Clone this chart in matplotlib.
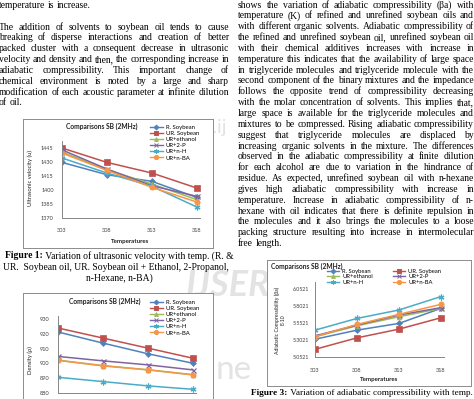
import matplotlib
matplotlib.use("Agg")
import matplotlib.pyplot as plt
from matplotlib.lines import Line2D

W, H = 474, 399
SERIF = "Liberation Serif"
SANS = "Lato"

# ---- data read from the page ----
temps = [303, 308, 313, 318]
names = ["R. Soybean", "UR. Soybean", "UR+ethanol", "UR+2-P", "UR+n-H", "UR+n-BA"]
colors = ["#4F81BD", "#C0504D", "#9BBB59", "#8064A2", "#4BACC6", "#F79646"]
markers = ["D", "s", "^", "x", (6, 2, 0), "o"]
msizes = [3.0, 4.0, 3.4, 3.6, 4.2, 3.8]

# Fig 1: ultrasonic velocity
vel_r_soy = [1429.6, 1416.4, 1409.3, 1392.0]
vel_ur_soy = [1445.0, 1429.6, 1418.2, 1402.1]
vel_ethanol = [1440.7, 1421.8, 1406.4, 1389.6]
vel_2p = [1443.0, 1422.5, 1404.6, 1393.2]
vel_nh = [1434.3, 1418.2, 1404.0, 1381.8]
vel_nba = [1439.6, 1421.0, 1402.9, 1387.1]
vel_ticks = [1370, 1385, 1400, 1415, 1430, 1445]

# Fig 2: density
den_r_soy = [921.2, 913.7, 906.5, 900.1]
den_ur_soy = [923.9, 917.1, 910.3, 903.5]
den_ethanol = [902.2, 898.5, 895.7, 892.4]
den_2p = [904.7, 901.7, 899.0, 895.6]
den_nh = [890.6, 887.7, 884.8, 882.5]
den_nba = [902.0, 898.3, 895.6, 892.2]
den_ticks = [880, 890, 900, 910, 920, 930]

# Fig 3: adiabatic compressibility (E-10)
comp_r_soy = [5.313, 5.446, 5.545, 5.766]
comp_ur_soy = [5.165, 5.333, 5.461, 5.628]
comp_ethanol = [5.348, 5.510, 5.643, 5.766]
comp_2p = [5.362, 5.520, 5.668, 5.776]
comp_nh = [5.446, 5.618, 5.742, 5.939]
comp_nba = [5.350, 5.530, 5.678, 5.825]
comp_ticks = [5.0521, 5.3021, 5.5521, 5.8021, 6.0521]

left_text = [
    "The addition of solvents to soybean oil tends to cause",
    "breaking of disperse interactions and creation of better",
    "packed cluster with a consequent decrease in ultrasonic",
    "velocity and density and then, the corresponding increase in",
    "adiabatic compressibility. This important change of",
    "chemical environment is noted by a large and sharp",
    "modification of each acoustic parameter at infinite dilution",
    "of oil.",
]
right_text = [
    "shows the variation of adiabatic compressibility (\u03b2a) with",
    "temperature (K) of refined and unrefined soybean oils and",
    "with different organic solvents. Adiabatic compressibility of",
    "the refined and unrefined soybean oil, unrefined soybean oil",
    "with their chemical additives increases with increase in",
    "temperature this indicates that the availability of large space",
    "in triglyceride molecules and triglyceride molecule with the",
    "second component of the binary mixtures and the impedance",
    "follows the opposite trend of compressibility decreasing",
    "with the molar concentration of solvents. This implies that,",
    "large space is available for the triglyceride molecules and",
    "mixtures to be compressed. Rising adiabatic compressibility",
    "suggest that triglyceride molecules are displaced by",
    "increasing organic solvents in the mixture. The differences",
    "observed in the adiabatic compressibility at finite dilution",
    "for each alcohol are due to variation in the hindrance of",
    "residue. As expected, unrefined soybean oil with n-hexane",
    "gives high adiabatic compressibility with increase in",
    "temperature. Increase in adiabatic compressibility of n-",
    "hexane with oil indicates that there is definite repulsion in",
    "the molecules and it also brings the molecules to a loose",
    "packing structure resulting into increase in intermolecular",
    "free length.",
]

fig = plt.figure(figsize=(W / 100, H / 100), dpi=100)
renderer = fig.canvas.get_renderer()
TS = 6.95  # page text size


def fx(x):
    return x / W


def fy(y):
    return 1 - y / H


def rect(x0, y0, x1, y1):
    return [fx(x0), fy(y1), (x1 - x0) / W, (y1 - y0) / H]


# justified page text, one word at a time
def text_line(line, x0, x1, y, size=TS, justify=True):
    words = line.split()
    arts = [fig.text(0, 0, w, fontsize=size, family=SERIF, va="center") for w in words]
    widths = [a.get_window_extent(renderer).width for a in arts]
    space = size * 100 / 72 * 0.25
    if justify and len(words) > 1:
        gap = max((x1 - x0 - sum(widths)) / (len(words) - 1), space * 0.55)
    else:
        gap = space
    x = x0
    for a, w in zip(arts, widths):
        a.set_position((fx(x), fy(y)))
        x += w + gap


def caption(parts, cx, y, size=TS):
    arts = [fig.text(0, 0, t, fontsize=size, family=SERIF, va="center",
                     fontweight="bold" if b else "normal") for t, b in parts]
    widths = [a.get_window_extent(renderer).width for a in arts]
    x = cx - sum(widths) / 2
    for a, w in zip(arts, widths):
        a.set_position((fx(x), fy(y)))
        x += w


LS = 10.85
text_line("temperature is increase.", -1, 229, 5, justify=False)
for i, line in enumerate(left_text):
    text_line(line, -1, 229, 27 + i * LS, justify=(i < len(left_text) - 1))
for i, line in enumerate(right_text):
    text_line(line, 238, 474, 5 + i * LS, justify=(i < len(right_text) - 1))

caption([("Figure 1:", True), (" Variation of ultrasonic velocity with temp. (R. &", False)], 119, 256)
caption([("UR.  Soybean oil, UR. Soybean oil + Ethanol, 2-Propanol,", False)], 116, 267)
caption([("n-Hexane, n-BA)", False)], 119, 278)
caption([("Figure 3:", True), (" Variation of adiabatic compressibility with temp.", False)],
        362, 393, size=6.7)

# faint watermark behind the charts
wm = dict(color="#e3e3e3", zorder=-1, family=SANS)
fig.text(fx(198), fy(127), "w.ij", fontsize=14, va="center", **wm)
fig.text(fx(186), fy(285), "IJSER", fontsize=26, fontweight="bold", style="italic", va="center", **wm)
fig.text(fx(216), fy(370), "ne", fontsize=24, va="center", **wm)


def chart(box, plot, series, ylim, yticks, ylabels=None):
    bg = fig.add_axes(rect(*box))
    bg.set_xticks([])
    bg.set_yticks([])
    for s in bg.spines.values():
        s.set_color("#8c8c8c")
        s.set_linewidth(0.7)
    ax = fig.add_axes(rect(*plot))
    ax.patch.set_alpha(0)
    for vals, c, m, ms in zip(series, colors, markers, msizes):
        ax.plot(temps, vals, color=c, marker=m, markersize=ms, linewidth=1.1,
                markeredgewidth=0.9 if m in ("x", (6, 2, 0)) else 0.5, markeredgecolor=c)
    ax.set_xlim(303, 318.35)
    ax.set_ylim(*ylim)
    ax.set_xticks(temps)
    ax.set_yticks(yticks)
    if ylabels:
        ax.set_yticklabels(ylabels)
    for side in ("top", "right"):
        ax.spines[side].set_visible(False)
    for side in ("left", "bottom"):
        ax.spines[side].set_color("#868686")
        ax.spines[side].set_linewidth(0.7)
    ax.tick_params(length=0, labelsize=4, labelcolor="#404040", pad=6)
    for t in ax.get_xticklabels() + ax.get_yticklabels():
        t.set_family(SANS)
    return ax


def handles():
    return [Line2D([0], [0], color=c, marker=m, markersize=ms * 0.8, linewidth=1.0,
                   markeredgecolor=c, markeredgewidth=0.7)
            for c, m, ms in zip(colors, markers, msizes)]


# ---- Figure 1 ----
ax1 = chart((23, 119, 213, 248), (62, 141.5, 200, 218),
            [vel_r_soy, vel_ur_soy, vel_ethanol, vel_2p, vel_nh, vel_nba],
            (1370, 1452), vel_ticks)
ax1.tick_params(axis="x", pad=7)
fig.text(fx(102), fy(126), "Comparisons SB (2MHz)", fontsize=4.8, fontweight="bold",
         family=SANS, ha="center", va="center", color="#202020")
fig.text(fx(30), fy(178), "Ultrasonic velocity (u)", fontsize=4.2, rotation=90,
         family=SANS, ha="center", va="center", color="#202020")
fig.text(fx(130), fy(242), "Temperatures", fontsize=4.4, fontweight="bold",
         family=SANS, ha="center", va="center", color="#202020")
fig.legend(handles(), names, loc="upper left", bbox_to_anchor=(fx(150), fy(125)),
           frameon=False, handlelength=2.1, handletextpad=0.5,
           labelspacing=0.15, borderpad=0, borderaxespad=0, prop={"family": SANS, "size": 4.3})

# ---- Figure 2 (bottom of it is off the page) ----
ax2 = chart((23, 293, 213, 420), (58, 316, 196, 393),
            [den_r_soy, den_ur_soy, den_ethanol, den_2p, den_nh, den_nba],
            (880, 932), den_ticks)
ax2.tick_params(axis="x", labelbottom=False)
fig.text(fx(105), fy(301), "Comparisons SB (2MHz)", fontsize=4.8, fontweight="bold",
         family=SANS, ha="center", va="center", color="#202020")
fig.text(fx(30), fy(360), "Density (\u03c1)", fontsize=4.2, rotation=90,
         family=SANS, ha="center", va="center", color="#202020")
fig.legend(handles(), names, loc="upper left", bbox_to_anchor=(fx(150), fy(300)),
           frameon=False, handlelength=2.1, handletextpad=0.5,
           labelspacing=0.15, borderpad=0, borderaxespad=0, prop={"family": SANS, "size": 4.3})

# ---- Figure 3 ----
ax3 = chart((267, 260, 471, 386), (315, 282, 444, 357),
            [comp_r_soy, comp_ur_soy, comp_ethanol, comp_2p, comp_nh, comp_nba],
            (5.0521, 6.1521), comp_ticks, [f"{v:.4f}" for v in comp_ticks])
ax3.tick_params(axis="y", pad=4.5, labelsize=3.8)
ax3.tick_params(axis="x", pad=8)
fig.text(fx(271), fy(266), "Comparisons SB (2MHz)", fontsize=4.8, fontweight="bold",
         family=SANS, ha="left", va="center", color="#202020")
fig.text(fx(280), fy(320), "Adiabatic Compressibility (\u03b2a)\nE-10", fontsize=3.7,
         rotation=90, family=SANS, ha="center", va="center", multialignment="center",
         color="#202020", linespacing=1.25)
fig.text(fx(379), fy(380), "Temperatures", fontsize=4.4, fontweight="bold",
         family=SANS, ha="center", va="center", color="#202020")
h = handles()
fig.legend([h[0], h[2], h[4]], [names[0], names[2], names[4]], loc="upper left",
           bbox_to_anchor=(fx(327), fy(269)), frameon=False, handlelength=2.1,
           handletextpad=0.5, labelspacing=0.05, borderpad=0, borderaxespad=0,
           prop={"family": SANS, "size": 4.2})
fig.legend([h[1], h[3], h[5]], [names[1], names[3], names[5]], loc="upper left",
           bbox_to_anchor=(fx(393), fy(269)), frameon=False, handlelength=2.1,
           handletextpad=0.5, labelspacing=0.05, borderpad=0, borderaxespad=0,
           prop={"family": SANS, "size": 4.2})

fig.savefig("out.png", dpi=100)
